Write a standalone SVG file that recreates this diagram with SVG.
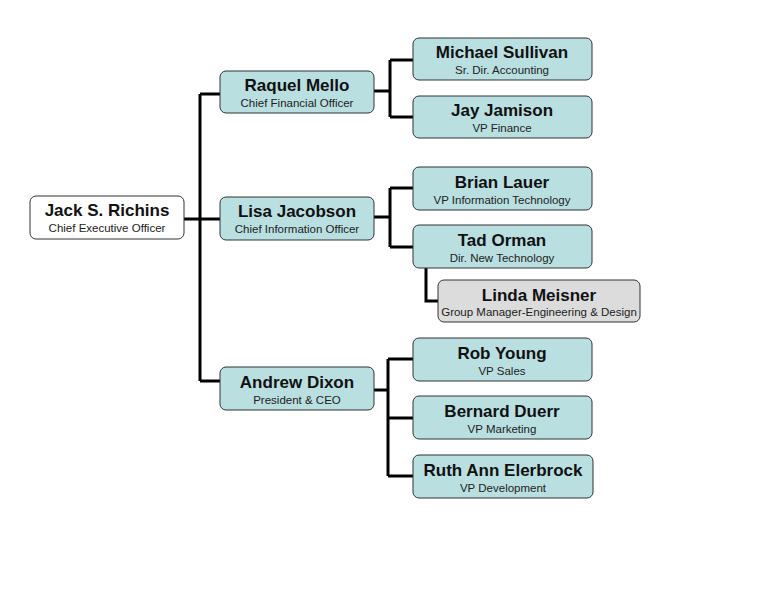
<svg xmlns="http://www.w3.org/2000/svg" width="768" height="594" viewBox="0 0 768 594">
<style>
.b{fill:#b9dfe1;stroke:#333;stroke-width:1}
.w{fill:#fff;stroke:#333;stroke-width:1}
.g{fill:#dcdcdc;stroke:#333;stroke-width:1}
.n{font-family:"Liberation Sans",Arial,sans-serif;font-weight:bold;font-size:17px;text-anchor:middle;fill:#111}
.t{font-family:"Liberation Sans",Arial,sans-serif;font-size:11.5px;text-anchor:middle;fill:#222}
.c{fill:none;stroke:#000;stroke-width:3}
</style>
<rect width="768" height="594" fill="#fff"/>
<g id="connectors">
<path class="c" d="M184 219H220M200 94V381M200 94H220M200 381H220"/>
<path class="c" d="M374 91H390M390 60V117M390 60H413M390 117H413"/>
<path class="c" d="M374 217H390M390 188V247M390 188H413M390 247H413"/>
<path class="c" d="M426 268V301H438"/>
<path class="c" d="M374 390H388M388 359V476M388 359H413M388 418H413M388 476H413"/>
</g>
<g id="jack"><rect class="w" x="30" y="196" width="154" height="43" rx="6"/><text class="n" x="107" y="216">Jack S. Richins</text><text class="t" x="107" y="232">Chief Executive Officer</text></g>
<g id="raquel"><rect class="b" x="220" y="71" width="154" height="42" rx="6"/><text class="n" x="297" y="91">Raquel Mello</text><text class="t" x="297" y="107">Chief Financial Officer</text></g>
<g id="lisa"><rect class="b" x="220" y="197" width="154" height="43" rx="6"/><text class="n" x="297" y="217">Lisa Jacobson</text><text class="t" x="297" y="233">Chief Information Officer</text></g>
<g id="andrew"><rect class="b" x="220" y="367" width="154" height="43" rx="6"/><text class="n" x="297" y="388">Andrew Dixon</text><text class="t" x="297" y="404">President &amp; CEO</text></g>
<g id="michael"><rect class="b" x="413" y="38" width="179" height="42" rx="6"/><text class="n" x="502" y="58">Michael Sullivan</text><text class="t" x="502" y="74">Sr. Dir. Accounting</text></g>
<g id="jay"><rect class="b" x="413" y="96" width="179" height="42" rx="6"/><text class="n" x="502" y="116">Jay Jamison</text><text class="t" x="502" y="132">VP Finance</text></g>
<g id="brian"><rect class="b" x="413" y="167" width="179" height="43" rx="6"/><text class="n" x="502" y="188">Brian Lauer</text><text class="t" x="502" y="204">VP Information Technology</text></g>
<g id="tad"><rect class="b" x="413" y="225" width="179" height="43" rx="6"/><text class="n" x="502" y="246">Tad Orman</text><text class="t" x="502" y="262">Dir. New Technology</text></g>
<g id="linda"><rect class="g" x="438" y="280" width="202" height="42" rx="6"/><text class="n" x="539" y="301">Linda Meisner</text><text class="t" x="539" y="316">Group Manager-Engineering &amp; Design</text></g>
<g id="rob"><rect class="b" x="413" y="338" width="179" height="43" rx="6"/><text class="n" x="502" y="359">Rob Young</text><text class="t" x="502" y="375">VP Sales</text></g>
<g id="bernard"><rect class="b" x="413" y="396" width="179" height="43" rx="6"/><text class="n" x="502" y="417">Bernard Duerr</text><text class="t" x="502" y="433">VP Marketing</text></g>
<g id="ruth"><rect class="b" x="413" y="455" width="180" height="43" rx="6"/><text class="n" x="503" y="476">Ruth Ann Elerbrock</text><text class="t" x="503" y="492">VP Development</text></g>
</svg>
